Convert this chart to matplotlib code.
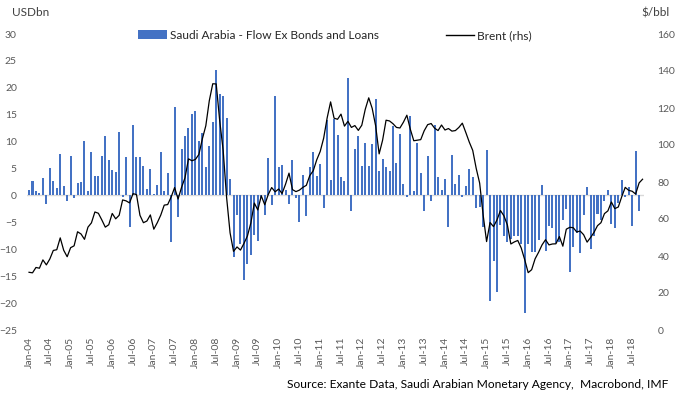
import numpy as np
import matplotlib
matplotlib.use("Agg")
import matplotlib.pyplot as plt
from matplotlib.patches import Patch
from matplotlib.lines import Line2D

plt.rcParams['font.family'] = ['Lato', 'DejaVu Sans']

# Monthly, Jan-04 .. Sep-18 (flows), Jan-04 .. Oct-18 (Brent)
flows = [
    1.0, 2.6, 0.9, 0.4, 3.3, -1.6, 5.1, 2.7, 1.4, 7.7, 1.8, -1.0,          # 2004
    7.4, -0.5, 2.3, 2.5, 10.2, 0.8, 8.1, 3.6, 3.6, 7.4, 11.1, 6.5,          # 2005
    4.7, 4.4, 11.7, -0.3, 7.2, -5.9, 13.0, 7.2, 7.2, 5.5, 1.2, 4.9,         # 2006
    0.3, 1.9, 8.1, 0.8, 4.2, -8.6, 16.5, -4.0, 8.7, 11.0, 12.6, 15.2,       # 2007
    15.7, 10.2, 11.6, 5.3, 9.2, 13.7, 23.4, 18.9, 18.5, 14.3, 3.1, -11.4,   # 2008
    -3.6, -9.0, -15.7, -12.7, -11.0, -7.3, -8.5, -0.5, -3.7, 6.9, -1.8, 18.5,  # 2009
    5.3, 5.7, 1.0, -1.6, 6.6, -0.5, -5.0, 3.8, -3.9, 5.3, 8.0, 3.6,         # 2010
    5.9, -2.4, 14.0, 2.9, 14.2, 11.3, 3.4, 2.6, 21.8, -2.9, 8.7, 11.1,      # 2011
    5.5, 9.8, 5.4, 9.6, 18.0, 4.5, 6.7, 5.2, 4.5, 12.9, 6.0, 11.5,          # 2012
    2.2, -0.2, 14.7, 0.8, 9.8, 4.1, -2.8, 7.3, -1.1, 13.0, 3.4, 1.0,        # 2013
    3.0, -5.8, 7.5, 2.1, 3.8, -0.2, 1.7, 4.9, 3.4, -2.4, -2.2, -5.8,        # 2014
    8.4, -19.6, -12.1, -17.9, -5.4, -7.6, -8.7, -8.1, -7.5, -7.5, -9.1, -21.9,  # 2015
    -9.0, -10.5, -10.5, -8.2, 2.0, -10.4, -5.7, -6.0, -8.9, -8.7, -4.5, -2.5,   # 2016
    -14.2, -9.5, -7.0, -10.6, -3.6, 1.6, -10.0, -7.6, -3.4, -4.6, -1.1, 1.0,    # 2017
    -5.3, -6.1, -1.4, 2.9, -0.3, 1.6, -5.6, 8.2, -2.8,                       # 2018
]

brent = [
    31.2, 30.9, 33.8, 33.4, 37.9, 35.2, 38.4, 43.0, 43.4, 49.8, 43.1, 39.6,
    44.5, 45.5, 53.1, 51.9, 49.0, 55.6, 57.9, 63.8, 63.1, 59.5, 55.6, 56.9,
    63.0, 60.1, 62.0, 70.3, 69.8, 68.7, 73.7, 73.2, 62.0, 58.0, 58.9, 62.2,
    54.5, 58.0, 62.1, 67.5, 67.8, 71.9, 77.0, 70.8, 77.1, 82.3, 92.5, 91.5,
    92.2, 94.9, 103.3, 110.4, 123.9, 133.1, 133.0, 113.2, 97.2, 71.6, 52.5, 42.5,
    44.9, 43.2, 46.8, 50.8, 57.9, 68.6, 64.9, 72.5, 67.7, 73.2, 77.0, 74.7,
    76.2, 73.8, 78.8, 84.8, 75.9, 74.8, 75.6, 77.1, 78.2, 83.5, 86.1, 92.0,
    96.5, 103.7, 114.6, 123.3, 114.5, 113.9, 116.7, 110.2, 112.8, 109.5, 110.5, 107.9,
    110.7, 119.3, 125.5, 119.8, 110.3, 95.2, 102.6, 113.4, 113.0, 111.5, 109.5, 109.2,
    112.3, 116.1, 108.5, 102.3, 102.6, 102.9, 107.7, 111.0, 111.6, 109.1, 107.8, 110.8,
    108.1, 108.9, 107.5, 107.8, 109.5, 111.8, 106.8, 101.6, 97.1, 87.4, 79.4, 62.3,
    47.8, 58.1, 55.9, 59.5, 64.6, 61.7, 56.8, 46.5, 47.6, 48.4, 44.3, 38.0,
    31.0, 32.6, 38.5, 42.0, 46.0, 48.8, 46.0, 46.5, 46.6, 50.5, 45.3, 54.5,
    55.5, 55.3, 53.0, 53.5, 51.5, 47.5, 50.0, 52.8, 56.4, 58.0, 62.9, 64.4,
    69.2, 65.6, 66.5, 72.1, 77.1, 75.5, 75.0, 73.5, 79.5, 81.5,
]

years = list(range(2004, 2019))
tick_labels = []
for y in years:
    tick_labels.append(f"Jan-{y % 100:02d}")
    tick_labels.append(f"Jul-{y % 100:02d}")

n = len(brent)
x = np.arange(n)
xf = np.arange(len(flows))

fig = plt.figure(figsize=(6.79, 4.0), dpi=100)
W, H = 679, 400
left, right, top, bottom = 27.3, 644.3, 34.0, 330.0
ax = fig.add_axes([left / W, 1 - bottom / H, (right - left) / W, (bottom - top) / H])
ax2 = ax.twinx()

bar_color = '#4472C4'
tick_color = '#595959'

ax.axhline(0, color='#D9D9D9', lw=1.0, zorder=0.5)
ax.bar(xf, flows, width=0.58, color=bar_color, zorder=2)
ax2.plot(x, brent, color='black', lw=0.9, zorder=3)

ax.set_xlim(-0.5, n - 0.5)
ax.set_ylim(-25, 30)
ax2.set_ylim(0, 160)
ax.set_yticks(np.arange(-25, 31, 5))
ax2.set_yticks(np.arange(0, 161, 20))
ax.set_xticks(np.arange(0, n, 6))
ax.set_xticklabels(tick_labels[:len(np.arange(0, n, 6))], rotation=90)

for a in (ax, ax2):
    for s in a.spines.values():
        s.set_visible(False)
ax.tick_params(axis='y', length=0, pad=7.5, labelsize=7.5, labelcolor=tick_color)
ax2.tick_params(axis='y', length=0, pad=9.5, labelsize=7.5, labelcolor=tick_color)
ax.tick_params(axis='x', length=0, pad=5, labelsize=7.5, labelcolor=tick_color)
for lab in ax2.get_yticklabels():
    lab.set_ha('left')

fig.text(12 / W, 1 - 13 / H, "USDbn", fontsize=8.5, color='#404040', ha='left', va='center')
fig.text(641 / W, 1 - 13 / H, "$/bbl", fontsize=8.5, color='#404040', ha='left', va='center')

handles = [Patch(facecolor=bar_color, edgecolor='none'),
           Line2D([0], [0], color='black', lw=1.0)]
labels = ["Saudi Arabia - Flow Ex Bonds and Loans", "Brent (rhs)"]
fig.legend(handles, labels, loc='center', bbox_to_anchor=(335 / W, 1 - 35.5 / H),
           ncol=2, frameon=False, fontsize=8.6, handlelength=2.4, handleheight=0.8,
           handletextpad=0.25, columnspacing=5.6, labelcolor='#262626')

fig.text(668 / W, 1 - 384 / H,
         "Source: Exante Data, Saudi Arabian Monetary Agency,  Macrobond, IMF",
         fontsize=8.65, color='black', ha='right', va='center')

fig.savefig("out.png", dpi=100)
